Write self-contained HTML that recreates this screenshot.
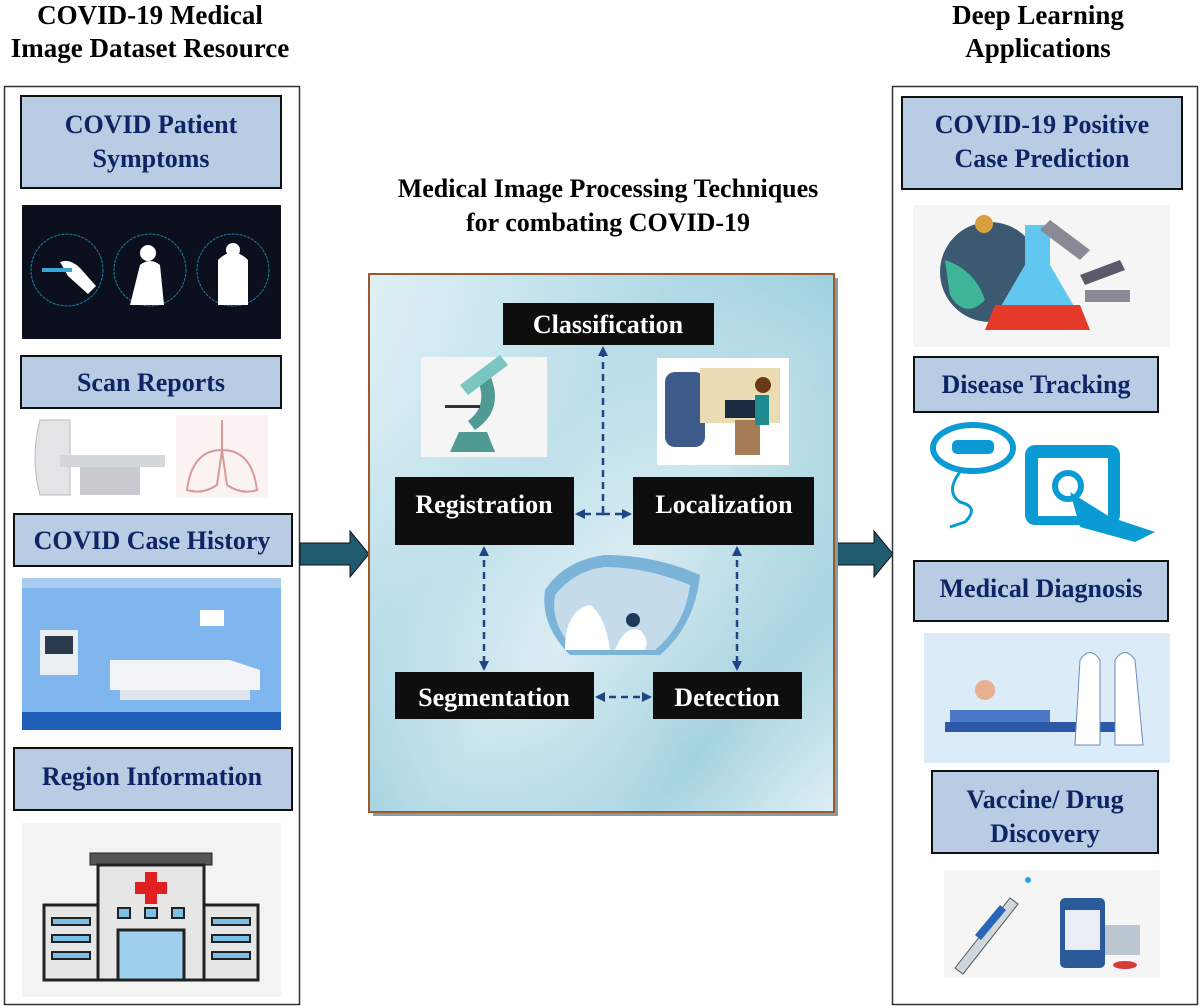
<!DOCTYPE html>
<html><head><meta charset="utf-8"><style>
html,body{margin:0;padding:0;background:#fff;}
svg{display:block;}
text{font-family:"Liberation Serif",serif;font-weight:bold;}
</style></head><body>
<svg width="1200" height="1006" viewBox="0 0 1200 1006" xmlns="http://www.w3.org/2000/svg">
<defs>
<linearGradient id="bg" x1="0" y1="0" x2="1" y2="1">
<stop offset="0" stop-color="#e3f2f6"/><stop offset="0.35" stop-color="#bfe0ea"/><stop offset="0.55" stop-color="#dcedf3"/><stop offset="0.8" stop-color="#a3d2df"/><stop offset="1" stop-color="#e1f0f4"/>
</linearGradient>
<linearGradient id="bg2" x1="0" y1="1" x2="1" y2="0">
<stop offset="0" stop-color="#9ccfdd" stop-opacity="0.8"/><stop offset="0.4" stop-color="#cfe8ef" stop-opacity="0"/><stop offset="1" stop-color="#92cbdb" stop-opacity="0.8"/>
</linearGradient>
<marker id="ah" markerWidth="10" markerHeight="10" refX="8" refY="5" orient="auto-start-reverse" markerUnits="userSpaceOnUse"><path d="M0,0 L10,5 L0,10 z" fill="#1f4585"/></marker>
</defs>

<!-- titles -->
<text x="150" y="24" font-size="27" text-anchor="middle" fill="#000">COVID-19 Medical</text>
<text x="150" y="57" font-size="27" text-anchor="middle" fill="#000">Image Dataset Resource</text>
<text x="1038" y="24" font-size="27" text-anchor="middle" fill="#000">Deep Learning</text>
<text x="1038" y="57" font-size="27" text-anchor="middle" fill="#000">Applications</text>
<text x="608" y="197" font-size="26" text-anchor="middle" fill="#000">Medical Image Processing Techniques</text>
<text x="608" y="231" font-size="26" text-anchor="middle" fill="#000">for combating COVID-19</text>

<!-- left panel -->
<rect x="4.5" y="86.5" width="295" height="918" fill="#fff" stroke="#333" stroke-width="1.5"/>
<rect x="21" y="96" width="260" height="92" fill="#b8cce4" stroke="#111" stroke-width="2"/>
<text x="151" y="133" font-size="26" text-anchor="middle" fill="#0f2464">COVID Patient</text>
<text x="151" y="167" font-size="26" text-anchor="middle" fill="#0f2464">Symptoms</text>
<rect x="22" y="205" width="259" height="134" fill="#0c101e"/>
<g fill="none" stroke="#1c7fa0" stroke-width="1" stroke-dasharray="3,1">
<circle cx="67" cy="270" r="36"/><circle cx="150" cy="270" r="36"/><circle cx="233" cy="270" r="36"/></g>
<g fill="#fff">
<path d="M60 262 q10 -4 20 6 l16 18 l-8 8 l-20 -18 z"/>
<path d="M130 305 l10 -40 q10 -8 20 0 l4 40 z"/><circle cx="148" cy="253" r="8"/>
<path d="M218 305 l0 -45 q15 -15 30 0 l0 45 z"/><circle cx="233" cy="250" r="7"/></g>
<rect x="42" y="268" width="30" height="4" fill="#3aa6d8"/>
<rect x="21" y="356" width="260" height="52" fill="#b8cce4" stroke="#111" stroke-width="2"/>
<text x="151" y="391" font-size="26" text-anchor="middle" fill="#0f2464">Scan Reports</text>
<rect x="22" y="415" width="148" height="83" fill="#fff"/>
<path d="M40 420 h30 v75 h-30 q-10 -37 0 -75z" fill="#e2e4e6" stroke="#bbb"/>
<rect x="60" y="455" width="105" height="12" fill="#d4d7da"/><rect x="80" y="467" width="60" height="28" fill="#c8ccd0"/>
<rect x="176" y="415" width="92" height="83" fill="#fbf2f2"/>
<g fill="none" stroke="#d89a9a" stroke-width="2"><path d="M222 420 v30 M222 450 q-30 0 -35 40 q15 5 30 -5 z M222 450 q30 0 35 40 q-15 5 -30 -5 z"/></g>
<rect x="14" y="514" width="278" height="52" fill="#b8cce4" stroke="#111" stroke-width="2"/>
<text x="152" y="549" font-size="26" text-anchor="middle" fill="#0f2464">COVID Case History</text>
<rect x="22" y="578" width="259" height="152" fill="#7fb6ee"/>
<rect x="22" y="578" width="259" height="10" fill="#a9cdf2"/>
<rect x="22" y="712" width="259" height="18" fill="#1d5fb8"/>
<rect x="40" y="630" width="38" height="45" fill="#e9eef3"/><rect x="45" y="636" width="28" height="18" fill="#2b3a4a"/>
<path d="M110 660 l120 0 l30 10 l0 20 l-150 0 z" fill="#f2f4f7"/><rect x="120" y="690" width="130" height="10" fill="#dfe5ec"/>
<rect x="200" y="610" width="24" height="16" fill="#fff"/>
<!-- region info -->
<rect x="14" y="748" width="278" height="62" fill="#b8cce4" stroke="#111" stroke-width="2"/>
<text x="152" y="785" font-size="26" text-anchor="middle" fill="#0f2464">Region Information</text>
<rect x="22" y="823" width="259" height="174" fill="#f3f3f3"/>
<rect x="90" y="853" width="122" height="12" fill="#555" stroke="#222"/>
<rect x="98" y="865" width="106" height="115" fill="#e6e6e6" stroke="#222" stroke-width="3"/>
<rect x="44" y="905" width="54" height="75" fill="#e6e6e6" stroke="#222" stroke-width="3"/>
<rect x="204" y="905" width="54" height="75" fill="#e6e6e6" stroke="#222" stroke-width="3"/>
<path d="M145 872 h12 v10 h10 v12 h-10 v10 h-12 v-10 h-10 v-12 h10 z" fill="#e02020"/>
<rect x="118" y="930" width="66" height="50" fill="#9fd0ee" stroke="#222" stroke-width="3"/>
<g fill="#7cc0ea" stroke="#222" stroke-width="2"><rect x="118" y="908" width="12" height="10"/><rect x="145" y="908" width="12" height="10"/><rect x="172" y="908" width="12" height="10"/>
<rect x="52" y="918" width="38" height="7"/><rect x="52" y="935" width="38" height="7"/><rect x="52" y="952" width="38" height="7"/>
<rect x="212" y="918" width="38" height="7"/><rect x="212" y="935" width="38" height="7"/><rect x="212" y="952" width="38" height="7"/></g>

<!-- big arrows -->
<path d="M300 543 h50 v-12 l19 23 l-19 23 v-12 h-50 z" fill="#1f5a6e" stroke="#111" stroke-width="1"/>
<path d="M834 543 h40 v-12 l19 23 l-19 23 v-12 h-40 z" fill="#1f5a6e" stroke="#111" stroke-width="1"/>

<!-- center box -->
<rect x="373" y="278" width="465" height="538" fill="#8a9aa3"/>
<rect x="369" y="274" width="465" height="538" fill="url(#bg)" stroke="#9a5a2a" stroke-width="2"/>
<rect x="370" y="275" width="463" height="536" fill="url(#bg2)"/>
<rect x="421" y="357" width="126" height="100" fill="#f5f5f5"/>
<g fill="#4f9a92"><path d="M450 452 h45 l-8 -20 h-28 z"/><path d="M475 430 q30 -20 15 -55 l-12 6 q10 25 -10 40 z"/><path d="M460 385 l40 -30 l8 10 l-40 30 z" fill="#7cc6c2"/></g>
<rect x="445" y="405" width="35" height="3" fill="#333"/>
<rect x="657" y="358" width="132" height="107" fill="#fff"/>
<rect x="665" y="372" width="40" height="75" rx="10" fill="#3e5a8a"/><rect x="700" y="368" width="80" height="55" fill="#ecdcb3"/>
<rect x="725" y="400" width="35" height="18" fill="#1c2c40"/><rect x="735" y="420" width="25" height="35" fill="#a57c55"/>
<circle cx="763" cy="385" r="8" fill="#6a3a1a"/><rect x="755" y="395" width="14" height="30" fill="#1f8a90"/>
<path d="M545 590 q20 -30 60 -35 q50 0 95 20 q-5 50 -40 80 h-90 q-30 -30 -25 -65z" fill="#7bb4d8"/>
<path d="M555 595 q20 -25 50 -28 q40 0 85 18 q-5 40 -35 65 h-80 q-25 -25 -20 -55z" fill="#c4dcea"/>
<path d="M565 650 q0 -40 25 -45 q15 10 20 45 z" fill="#fff"/><path d="M615 650 q10 -25 25 -20 q10 10 5 20 z" fill="#fff"/>
<circle cx="633" cy="620" r="7" fill="#1e3a5a"/>

<!-- black boxes -->
<g fill="#0e0e0e"><rect x="503" y="303" width="211" height="42"/><rect x="395" y="477" width="179" height="68"/><rect x="633" y="477" width="181" height="68"/><rect x="395" y="672" width="199" height="47"/><rect x="653" y="672" width="149" height="47"/></g>
<g fill="#fff" font-size="26" text-anchor="middle">
<text x="608" y="333">Classification</text><text x="484" y="513">Registration</text><text x="724" y="513">Localization</text>
<text x="494" y="706">Segmentation</text><text x="727" y="706">Detection</text></g>
<g stroke="#1f4585" stroke-width="2.5" stroke-dasharray="7,5" fill="none">
<path d="M603 513 V348" marker-end="url(#ah)"/>
<path d="M603 514 H577" marker-end="url(#ah)"/><path d="M603 514 H630" marker-end="url(#ah)"/>
<path d="M484 548 V669" marker-start="url(#ah)" marker-end="url(#ah)"/>
<path d="M737 548 V669" marker-start="url(#ah)" marker-end="url(#ah)"/>
<path d="M597 697 H650" marker-start="url(#ah)" marker-end="url(#ah)"/></g>

<!-- right panel -->
<rect x="892.5" y="86.5" width="305" height="918" fill="#fff" stroke="#333" stroke-width="1.5"/>
<rect x="902" y="97" width="280" height="92" fill="#b8cce4" stroke="#111" stroke-width="2"/>
<text x="1042" y="133" font-size="26" text-anchor="middle" fill="#0f2464">COVID-19 Positive</text>
<text x="1042" y="167" font-size="26" text-anchor="middle" fill="#0f2464">Case Prediction</text>
<rect x="913" y="205" width="257" height="142" fill="#f5f5f5"/>
<circle cx="990" cy="272" r="50" fill="#3b5a72"/><path d="M945 260 q30 10 40 40 q-20 20 -35 -5z" fill="#3fb597"/>
<circle cx="984" cy="224" r="9" fill="#d9a040"/>
<path d="M1025 225 h25 v40 l35 60 h-95 l35 -60 z" fill="#62c7f0"/><path d="M995 305 h85 l10 25 h-105 z" fill="#e53a2a"/>
<path d="M1050 220 l40 30 l-10 10 l-40 -30z" fill="#8a8a96"/><path d="M1080 275 l40 -15 l5 10 l-40 15 z" fill="#5a5a6a"/><rect x="1085" y="290" width="45" height="12" fill="#8a8a96"/>
<rect x="914" y="357" width="244" height="55" fill="#b8cce4" stroke="#111" stroke-width="2"/>
<text x="1036" y="393" font-size="26" text-anchor="middle" fill="#0f2464">Disease Tracking</text>
<ellipse cx="973" cy="448" rx="40" ry="23" fill="none" stroke="#0b9bd4" stroke-width="6"/>
<rect x="952" y="440" width="42" height="14" rx="5" fill="#0b9bd4"/>
<path d="M960 472 q-15 20 0 30 q20 5 5 20 l-15 5" fill="none" stroke="#0b9bd4" stroke-width="3"/>
<rect x="1025" y="445" width="95" height="80" rx="10" fill="#0b9bd4"/><rect x="1038" y="458" width="70" height="58" fill="#fff"/>
<circle cx="1068" cy="486" r="13" fill="none" stroke="#0b9bd4" stroke-width="6"/>
<path d="M1070 492 l40 25 l45 15 l-20 10 l-55 -15 z" fill="#0b9bd4"/>
<rect x="914" y="561" width="254" height="60" fill="#b8cce4" stroke="#111" stroke-width="2"/>
<text x="1041" y="597" font-size="26" text-anchor="middle" fill="#0f2464">Medical Diagnosis</text>
<rect x="924" y="633" width="246" height="130" fill="#dcebf8"/>
<rect x="950" y="710" width="100" height="12" fill="#4a78c8"/><rect x="945" y="722" width="180" height="10" fill="#2c5aa8"/>
<path d="M1080 660 q10 -15 20 0 v85 h-25 z" fill="#fff" stroke="#6a8ab8"/><path d="M1115 660 q10 -15 20 0 l8 85 h-28 z" fill="#fff" stroke="#6a8ab8"/>
<circle cx="985" cy="690" r="10" fill="#e8b090"/>
<rect x="932" y="771" width="226" height="82" fill="#b8cce4" stroke="#111" stroke-width="2"/>
<text x="1045" y="808" font-size="26" text-anchor="middle" fill="#0f2464">Vaccine/ Drug</text>
<text x="1045" y="842" font-size="26" text-anchor="middle" fill="#0f2464">Discovery</text>
<rect x="944" y="870" width="216" height="108" fill="#f5f5f5"/>
<path d="M955 968 l55 -70 l8 6 l-55 70 z" fill="#cfd6dc" stroke="#555"/><path d="M975 935 l25 -30 l6 5 l-25 30z" fill="#2a66b8"/>
<circle cx="1028" cy="880" r="3" fill="#2aa8e0"/>
<rect x="1060" y="898" width="45" height="70" rx="5" fill="#2a5a9a"/><rect x="1065" y="910" width="35" height="40" fill="#e8eef4"/>
<rect x="1105" y="925" width="35" height="30" fill="#bcc6d0"/><ellipse cx="1125" cy="965" rx="12" ry="4" fill="#d83a3a"/>
</svg>
</body></html>
